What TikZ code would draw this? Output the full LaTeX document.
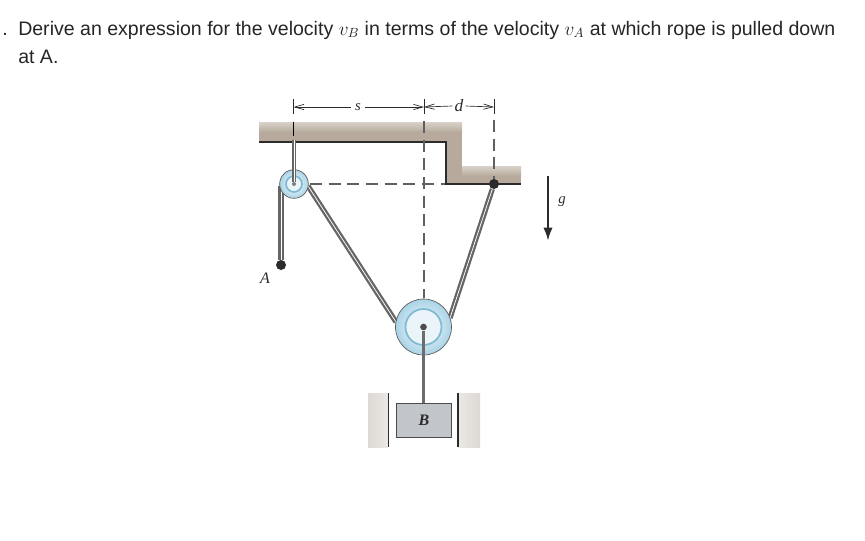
\documentclass[tikz,border=0pt]{standalone}
\usepackage{fontspec}
\setmainfont{Liberation Sans}
\newfontfamily\figserif{Liberation Serif}
\usetikzlibrary{arrows.meta,calc}
\definecolor{concrete}{HTML}{B7AA9C}
\definecolor{concretelight}{HTML}{D9D2CA}
\definecolor{inkdark}{HTML}{2B2B2B}
\definecolor{pulleyblue}{HTML}{A9D3E6}
\definecolor{ringblue}{HTML}{7FBAD2}
\definecolor{blockgray}{HTML}{C2C5C9}
\definecolor{wallgray}{HTML}{DDD9D4}
\tikzset{
  x=0.75pt,y=-0.75pt,
  qtext/.style={anchor=base west,inner sep=0pt,font=\fontsize{14.66pt}{18pt}\selectfont,text=black!85},
  rope/.style={draw=gray!80!black,line width=1.7pt,double=white,double distance=0.55pt},
  dimline/.style={draw=inkdark,line width=0.5pt,{Straight Barb[length=7pt,width=4pt]}-},
  tick/.style={draw=inkdark,line width=0.6pt},
  extline/.style={draw=inkdark!75,line width=0.8pt,dash pattern=on 9pt off 5pt},
  ball/.style={circle,fill=inkdark,draw=none,inner sep=0pt,minimum size=7.5pt},
  wheel/.style={circle,draw=gray!70!black,line width=0.5pt,inner color=white,outer color=pulleyblue,inner sep=0pt},
  ring/.style={circle,draw=ringblue,line width=1.3pt,fill=pulleyblue!25,inner sep=0pt},
  lab/.style={font=\figserif\itshape\fontsize{11pt}{12pt}\selectfont,inner sep=0pt,text=inkdark},
  rod/.style={draw=gray!85!black,line width=2pt},
}
\begin{document}
\begin{tikzpicture}
\useasboundingbox (0,0) rectangle (865,540);
\fill[white] (0,0) rectangle (865,540);
% question text
\node[qtext] (q0) at (2,35) {.};
\node[qtext] (q1) at (18,35) {Derive an expression for the velocity $v_B$ in terms of the velocity $v_A$ at which rope is pulled down};
\node[qtext] (q2) at (18,63) {at A.};
% support
\fill[top color=concretelight,bottom color=concrete] (259,122) rectangle (462,132);
\fill[concrete] (259,132) rectangle (462,142);
\fill[concrete] (446,132) rectangle (462,184);
\fill[top color=concretelight,bottom color=concrete] (462,166) rectangle (521,176);
\fill[concrete] (462,176) rectangle (521,184);
\draw[inkdark,line width=1pt] (259,142) -- (446,142) -- (446,184) -- (521,184);
% reference points
\coordinate (sL) at (293.5,107);
\coordinate (sM) at (424,107);
\coordinate (sR) at (494,107);
\coordinate (sLt) at (293.5,99);
\coordinate (sMt) at (424,99);
\coordinate (sRt) at (494,99);
\coordinate (sLb) at (293.5,114);
\coordinate (sMb) at (424,114);
\coordinate (sRb) at (494,114);
\coordinate (midTop) at (424,121);
\coordinate (midBot) at (424,298);
\coordinate (fixTop) at (293.5,122);
\coordinate (fixBot) at (293.5,136);
\coordinate (rTop) at (494,120);
\coordinate (hangTop) at (294,140);
\coordinate (hStart) at (310,184);
\coordinate (hEnd) at (445,184);
% dimensions
\node[lab,inner xsep=3pt] (ls) at (358,107) {s};
\node[lab,inner xsep=1.5pt,font=\figserif\itshape\fontsize{13pt}{14pt}\selectfont] (ld) at (459,106) {d};
\draw[tick] (sLt) -- (sLb);
\draw[tick] (sMt) -- (sMb);
\draw[tick] (sRt) -- (sRb);
\draw[dimline] (sL) -- (ls.west);
\draw[dimline] (sM) -- (ls.east);
\draw[dimline] (sM) -- (ld.west);
\draw[dimline] (sR) -- (ld.east);
% extension lines
\draw[extline] (midTop) -- (midBot);
\draw[extline] (rTop) -- (494,180);
\draw[draw=black,line width=1.1pt] (fixTop) -- (fixBot);
\draw[extline] (hStart) -- (hEnd);
% walls
\fill[left color=wallgray,right color=wallgray!60] (368,393) rectangle (388,447);
\fill[right color=wallgray,left color=wallgray!60] (458,393) rectangle (480,447);
\draw[inkdark,line width=1.1pt] (388.5,393) -- (388.5,447);
\draw[inkdark,line width=1.1pt] (458,393) -- (458,447);
% block
\node[draw=gray!60!black,fill=blockgray,minimum width=41.5pt,minimum height=25.5pt,inner sep=0pt,line width=0.6pt,font=\figserif\itshape\bfseries\fontsize{12pt}{13pt}\selectfont,text=inkdark] (B) at (424,420) {B};
% fixed point and ball
\node[ball] (fix) at (494,184) {};
\node[ball] (ballA) at (281,265) {};
\coordinate (ropeSmallLeft) at (281,186);
\coordinate (ropeSmallRight) at (308,186);
\coordinate (ropeBigLeft) at (396,322);
\coordinate (ropeBigRight) at (450,318);
% ropes
\draw[rope] (ballA) -- (ropeSmallLeft);
\draw[rope] (ropeSmallRight) -- (ropeBigLeft);
\draw[rope] (fix) -- (ropeBigRight);
% small pulley
\node[wheel,minimum size=21.5pt] (p1) at (294,184) {};
\node[ring,minimum size=12pt] (p1r) at (294,184) {};
\node[circle,fill=gray,inner sep=0pt,minimum size=3pt] (p1h) at (294,184) {};
\draw[rope,line width=1.5pt] (hangTop) -- (p1h);
% big pulley
\node[wheel,minimum size=42pt] (p2) at (423.5,327) {};
\node[ring,minimum size=27pt] (p2r) at (423.5,327) {};
\node[circle,fill=gray!60!black,inner sep=0pt,minimum size=5pt] (p2h) at (423.5,327) {};
\draw[rod] (p2h) -- (B.north -| p2h);
\coordinate (ropeMid) at (424,300);
\draw[draw=gray,line width=0.6pt] (ropeMid) -- (p2.north);
% labels
\node[lab,font=\figserif\itshape\fontsize{12pt}{13pt}\selectfont] (A) at (265,278) {A};
\node[lab] (g) at (562,202) {g};
% gravity arrow
\coordinate (gTop) at (548,176);
\coordinate (gEnd) at (548,241);
\draw[draw=inkdark,line width=1.8pt,-{Latex[length=10pt,width=7pt]}] (gTop) -- (gEnd);
\end{tikzpicture}
\end{document}
